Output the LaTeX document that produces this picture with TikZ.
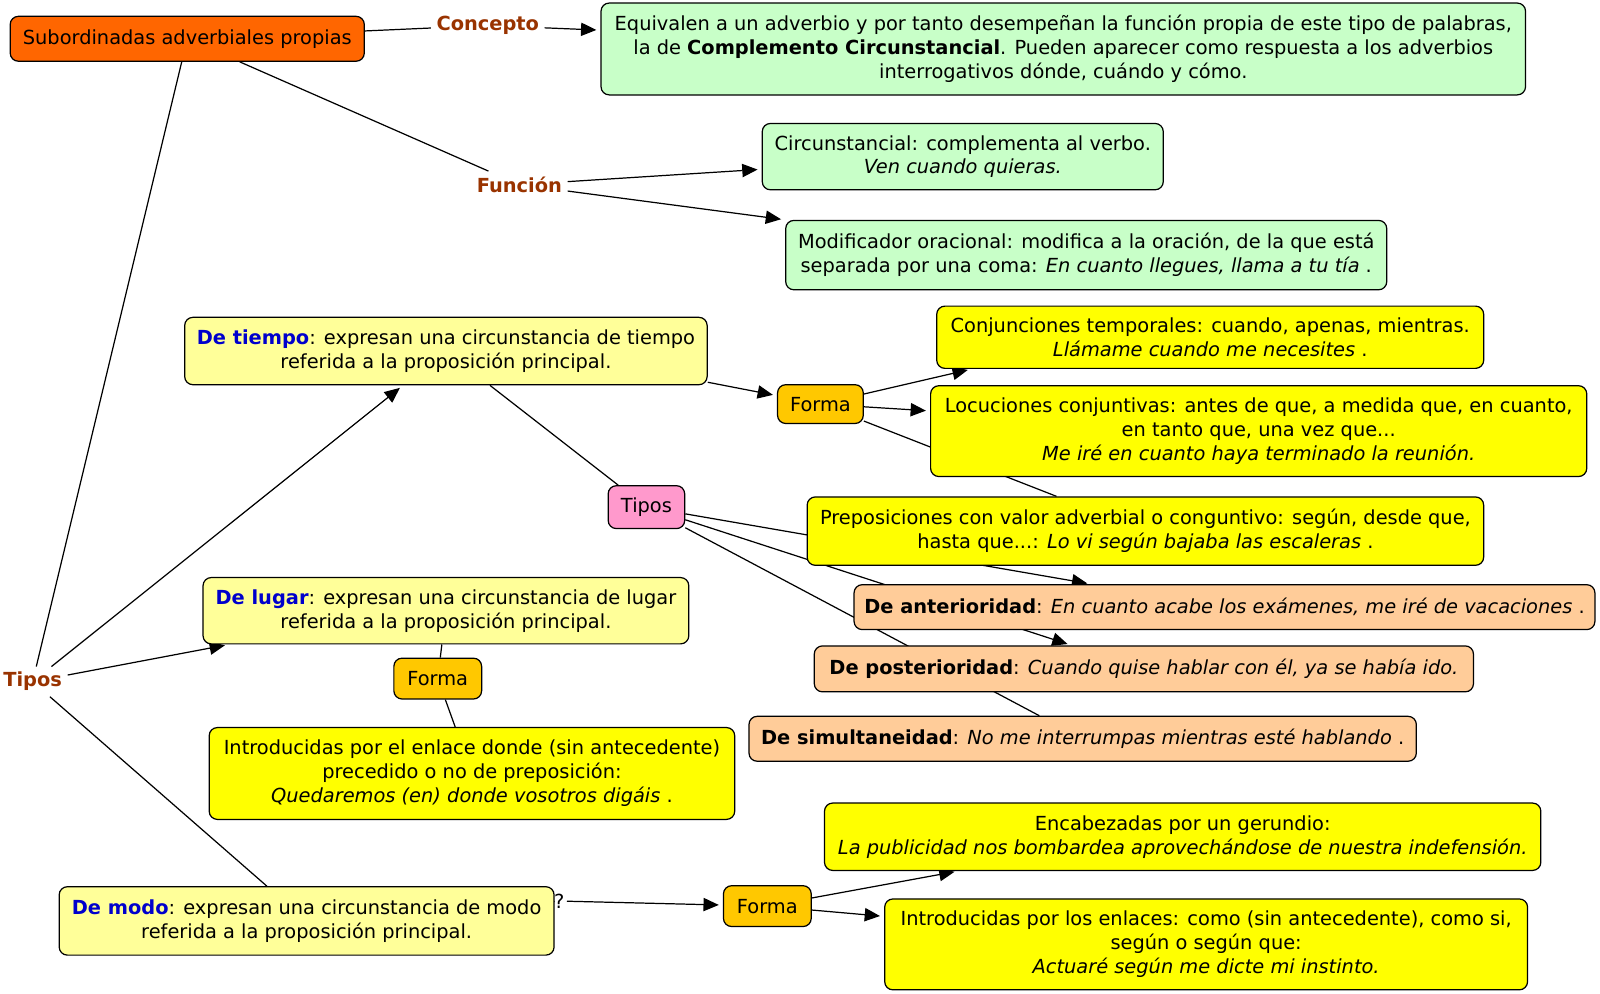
\documentclass[tikz,border=0pt]{standalone}
\usepackage{fontspec}
\setmainfont{DejaVu Sans}
\usetikzlibrary{arrows.meta}
\definecolor{mainorange}{HTML}{FF6600}
\definecolor{mapgreen}{HTML}{C8FFC8}
\definecolor{paleyellow}{HTML}{FFFF99}
\definecolor{mapyellow}{HTML}{FFFF00}
\definecolor{formaorange}{HTML}{FFC800}
\definecolor{tipospink}{HTML}{FF99CC}
\definecolor{peach}{HTML}{FFCC99}
\definecolor{linkbrown}{HTML}{993300}
\definecolor{deblue}{HTML}{0000CC}
\pgfdeclarelayer{background}
\pgfsetlayers{background,main}
\newcommand{\mapfont}{\fontsize{19}{23.5}\selectfont}
\tikzset{
	concept/.style={draw, rounded corners=8pt, line width=1.2pt, align=center, inner sep=4pt},
	linkword/.style={font=\mapfont\bfseries, text=linkbrown, inner sep=5pt},
	arr/.style={-{Triangle[length=15pt,width=13pt]}, shorten >=4pt},
}
\newcommand{\tipo}[1]{\textcolor{deblue}{\textbf{#1}}}

\begin{document}
\begin{tikzpicture}[x=1pt, y=-1pt, line width=1.2pt, font=\mapfont]
	\useasboundingbox (0,0) rectangle (1568,974);

	%TOP
	\node[concept, fill=mainorange, minimum width=347pt, minimum height=44pt] (main) at (183.5,38) {Subordinadas adverbiales propias};
	\node[linkword] (concepto) at (478,25) {Concepto};
	\node[concept, fill=mapgreen, minimum width=906pt, minimum height=90pt] (equiv) at (1042,48)
		{Equivalen a un adverbio y por tanto desempeñan la función propia de este tipo de palabras,\\
		la de \textbf{Complemento Circunstancial}. Pueden aparecer como respuesta a los adverbios\\
		interrogativos dónde, cuándo y cómo.};
	\node[linkword] (funcion) at (509,181) {Función};
	\node[concept, fill=mapgreen, minimum width=393pt, minimum height=65pt] (circ) at (943.5,153.5)
		{Circunstancial: complementa al verbo.\\ \textit{Ven cuando quieras.}};
	\node[concept, fill=mapgreen, minimum width=589pt, minimum height=68pt] (modif) at (1064.5,250)
		{Modificador oracional: modifica a la oración, de la que está\\
		separada por una coma: \textit{En cuanto llegues, llama a tu tía} .};
	\node[linkword] (tipos) at (32,668) {Tipos};

	%DE TIEMPO
	\node[concept, fill=paleyellow, minimum width=512pt, minimum height=66pt] (tiempo) at (437,344)
		{\tipo{De tiempo}: expresan una circunstancia de tiempo\\ referida a la proposición principal.};
	\node[concept, fill=formaorange, minimum width=84pt, minimum height=38pt] (formaT) at (804,396) {Forma};
	\node[concept, fill=mapyellow, minimum width=536pt, minimum height=61pt] (conj) at (1186,330.5)
		{Conjunciones temporales: cuando, apenas, mientras.\\ \textit{Llámame cuando me necesites} .};
	\node[concept, fill=mapyellow, minimum width=643pt, minimum height=89pt] (locu) at (1233.5,422.5)
		{Locuciones conjuntivas: antes de que, a medida que, en cuanto,\\ en tanto que, una vez que...\\
		\textit{Me iré en cuanto haya terminado la reunión.}};
	\node[concept, fill=tipospink, minimum width=75pt, minimum height=42pt] (tiposT) at (633.5,497) {Tipos};
	\node[concept, fill=mapyellow, minimum width=663pt, minimum height=67pt] (prep) at (1122.5,520.5)
		{Preposiciones con valor adverbial o conguntivo: según, desde que,\\
		hasta que...: \textit{Lo vi según bajaba las escaleras} .};
	\node[concept, fill=peach, minimum width=726pt, minimum height=44pt] (anter) at (1200,595)
		{\textbf{De anterioridad}: \textit{En cuanto acabe los exámenes, me iré de vacaciones} .};
	\node[concept, fill=peach, minimum width=646pt, minimum height=45pt] (poster) at (1121,655.5)
		{\textbf{De posterioridad}: \textit{Cuando quise hablar con él, ya se había ido.}};
	\node[concept, fill=peach, minimum width=654pt, minimum height=44pt] (simul) at (1061,724)
		{\textbf{De simultaneidad}: \textit{No me interrumpas mientras esté hablando} .};

	%DE LUGAR
	\node[concept, fill=paleyellow, minimum width=476pt, minimum height=65pt] (lugar) at (437,598.5)
		{\tipo{De lugar}: expresan una circunstancia de lugar\\ referida a la proposición principal.};
	\node[concept, fill=formaorange, minimum width=86pt, minimum height=40pt] (formaL) at (429,665) {Forma};
	\node[concept, fill=mapyellow, minimum width=515pt, minimum height=90pt] (donde) at (462.5,758)
		{Introducidas por el enlace donde (sin antecedente)\\ precedido o no de preposición:\\
		\textit{Quedaremos (en) donde vosotros digáis} .};

	%DE MODO
	\node[concept, fill=paleyellow, minimum width=485pt, minimum height=67pt] (modo) at (300.5,902.5)
		{\tipo{De modo}: expresan una circunstancia de modo\\ referida a la proposición principal.};
	\node[inner sep=2pt] (pregunta) at (548,883) {?};
	\node[concept, fill=formaorange, minimum width=86pt, minimum height=40pt] (formaM) at (752,888) {Forma};
	\node[concept, fill=mapyellow, minimum width=702pt, minimum height=66pt] (encab) at (1159,820)
		{Encabezadas por un gerundio:\\
		\textit{La publicidad nos bombardea aprovechándose de nuestra indefensión.}};
	\node[concept, fill=mapyellow, minimum width=630pt, minimum height=89pt] (enlaces) at (1182,925.5)
		{Introducidas por los enlaces: como (sin antecedente), como si,\\ según o según que:\\
		\textit{Actuaré según me dicte mi instinto.}};

	%LINKS
	\begin{pgfonlayer}{background}
	\begin{scope}[line width=1.2pt]
		\draw (main) -- (concepto);
		\draw[arr] (concepto) -- (equiv);
		\draw (main) -- (funcion);
		\draw[arr] (funcion) -- (circ);
		\draw[arr] (funcion) -- (modif.north west);
		\draw (main) -- (tipos);
		\draw[arr] (tipos) -- (tiempo);
		\draw[arr] (tipos) -- ([xshift=26pt]lugar.south west);
		\draw (tipos) -- (modo);
		%tiempo
		\draw[arr] ([yshift=3pt]tiempo.south east) -- (formaT);
		\draw[arr] (formaT) -- ([xshift=35pt]conj.south west);
		\draw[arr] (formaT) -- (locu);
		\draw (formaT) -- (prep);
		\draw (tiempo) -- (tiposT);
		\draw[arr] (tiposT) -- (anter);
		\draw[arr] (tiposT) -- (poster);
		\draw (tiposT) -- (simul);
		%lugar
		\draw (lugar) -- (formaL);
		\draw (formaL) -- (donde);
		%modo
		\draw (modo) -- (pregunta);
		\draw[arr] (pregunta) -- (formaM);
		\draw[arr] (formaM) -- ([xshift=132pt]encab.south west);
		\draw[arr] (formaM) -- (enlaces);
	\end{scope}
	\end{pgfonlayer}
\end{tikzpicture}
\end{document}
